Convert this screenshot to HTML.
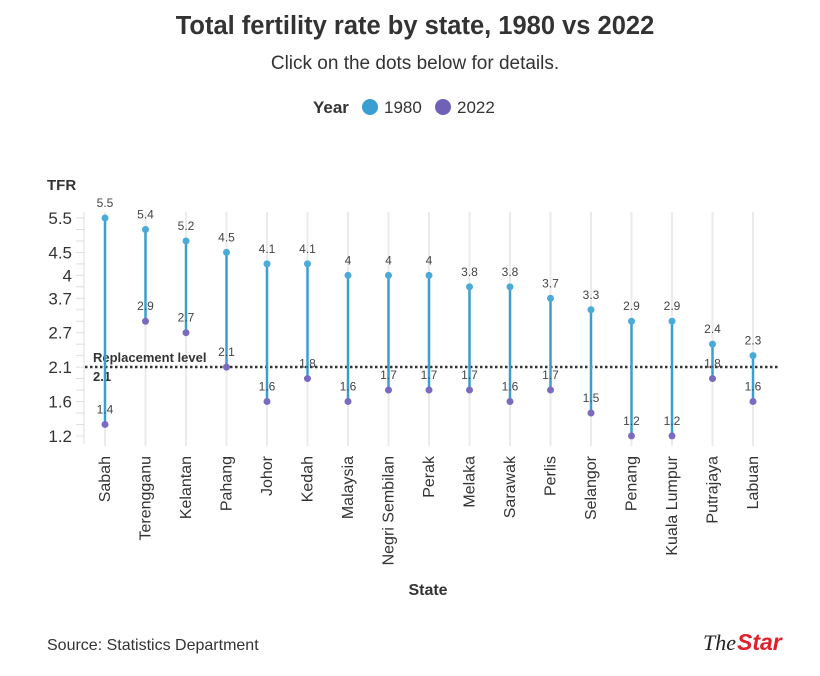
<!DOCTYPE html>
<html><head><meta charset="utf-8"><style>
html,body{margin:0;padding:0;background:#fff;width:820px;height:676px;overflow:hidden}
svg{display:block;font-family:"Liberation Sans",sans-serif}
</style></head><body>
<svg width="820" height="676" viewBox="0 0 820 676" xmlns="http://www.w3.org/2000/svg">
<text x="415" y="34" text-anchor="middle" font-size="25.5" font-weight="bold" fill="#333">Total fertility rate by state, 1980 vs 2022</text>
<text x="415" y="69" text-anchor="middle" font-size="19" fill="#333">Click on the dots below for details.</text>
<text x="313" y="113" font-size="17" font-weight="bold" fill="#333">Year</text>
<circle cx="370" cy="107" r="8" fill="#3a9fd0"/>
<text x="384" y="113" font-size="17" fill="#333">1980</text>
<circle cx="443" cy="107" r="8" fill="#7060b8"/>
<text x="457" y="113" font-size="17" fill="#333">2022</text>
<text x="47" y="190" font-size="15" font-weight="bold" fill="#333">TFR</text>
<g id="grid" stroke="#ebebeb" stroke-width="2"></g>
<line x1="84" y1="212" x2="84" y2="444" stroke="#ddd" stroke-width="1"/>
<g id="ticks" stroke="#ddd" stroke-width="1"></g>
<g id="yl" font-size="17" fill="#333" text-anchor="end"></g>
<line x1="85" y1="367" x2="780" y2="367" stroke="#333" stroke-width="2.5" stroke-dasharray="2.5,2.5"/>
<text x="93" y="362" font-size="13" font-weight="bold" fill="#333">Replacement level</text>
<text x="93" y="381" font-size="13" font-weight="bold" fill="#333">2.1</text>
<g id="series"></g>
<g id="xl" font-size="16" fill="#333"></g>
<text x="428" y="595" text-anchor="middle" font-size="16" font-weight="bold" fill="#333">State</text>
<text x="47" y="650" font-size="16" fill="#333">Source: Statistics Department</text>
<text x="703" y="650" font-size="22" font-style="italic" fill="#222" font-family="Liberation Serif,serif">The</text>
<text x="737" y="650" font-size="23" font-style="italic" font-weight="bold" fill="#e0202a">Star</text>
</svg>
<script>
var ns="http://www.w3.org/2000/svg";
var lv=[5.5,5.4,5.2,4.5,4.1,4,3.8,3.7,3.3,2.9,2.7,2.4,2.3,2.1,1.8,1.7,1.6,1.5,1.4,1.2];
function Y(v){return 218+lv.indexOf(v)*11.47;}
var d=[["Sabah",5.5,1.4],["Terengganu",5.4,2.9],["Kelantan",5.2,2.7],["Pahang",4.5,2.1],["Johor",4.1,1.6],["Kedah",4.1,1.8],["Malaysia",4,1.6],["Negri Sembilan",4,1.7],["Perak",4,1.7],["Melaka",3.8,1.7],["Sarawak",3.8,1.6],["Perlis",3.7,1.7],["Selangor",3.3,1.5],["Penang",2.9,1.2],["Kuala Lumpur",2.9,1.2],["Putrajaya",2.4,1.8],["Labuan",2.3,1.6]];
function el(p,t,a,txt){var e=document.createElementNS(ns,t);for(var k in a)e.setAttribute(k,a[k]);if(txt!=null)e.textContent=txt;document.getElementById(p).appendChild(e);return e;}
lv.forEach(function(v){el("ticks","line",{x1:76,x2:84,y1:Y(v),y2:Y(v)});});
[5.5,4.5,4,3.7,2.7,2.1,1.6,1.2].forEach(function(v){el("yl","text",{x:72,y:Y(v)+6},String(v));});
d.forEach(function(r,i){
 var x=105+i*40.5;
 el("grid","line",{x1:x,x2:x,y1:212,y2:446});
 el("series","line",{x1:x,x2:x,y1:Y(r[1]),y2:Y(r[2]),stroke:"#3a9fd0","stroke-width":2.5});
 el("series","circle",{cx:x,cy:Y(r[1]),r:3.5,fill:"#4aaad8"});
 el("series","circle",{cx:x,cy:Y(r[2]),r:3.5,fill:"#7a6bc0"});
 el("series","text",{x:x,y:Y(r[1])-11,"text-anchor":"middle","font-size":12,fill:"#444"},String(r[1]));
 el("series","text",{x:x,y:Y(r[2])-11,"text-anchor":"middle","font-size":12,fill:"#444"},String(r[2]));
 el("xl","text",{transform:"translate("+(x+5)+",456) rotate(-90)","text-anchor":"end"},r[0]);
});
</script>
</body></html>
